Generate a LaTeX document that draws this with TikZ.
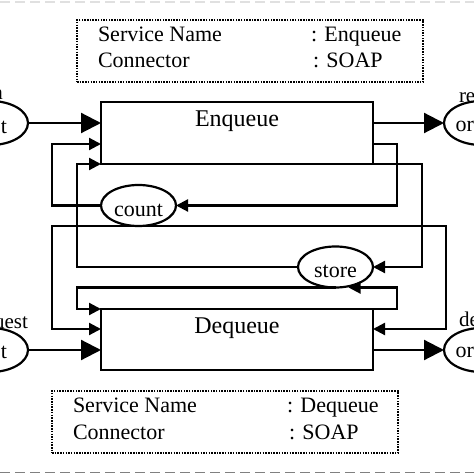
\documentclass[tikz,border=0pt]{standalone}
\usepackage{fontspec}
\setmainfont{Liberation Serif}
\usetikzlibrary{arrows.meta,shapes.geometric}
\begin{document}
\begin{tikzpicture}[x=1pt,y=1pt,inner sep=0pt,outer sep=0pt,line width=2.2pt,
font=\fontsize{22}{26}\selectfont,
svcblock/.style={draw,rectangle,minimum width=272pt,text height=0pt,text depth=12pt,font=\fontsize{24}{28}\selectfont},
place/.style={draw,ellipse,minimum width=75pt,minimum height=41pt,text height=22pt,text depth=0pt},
infobox/.style={draw,rectangle,dash pattern=on 1.5pt off 1.2pt,line width=1.8pt,minimum width=346pt,minimum height=62pt},
frag/.style={font=\fontsize{21}{24}\selectfont},
bigarr/.style={-{Triangle[length=20pt,width=20pt]}},
arr/.style={-{Triangle[length=12pt,width=12pt]}}]
\useasboundingbox (0,0) rectangle (474,474);
% page rules
\draw[black!12,line width=1.5pt,dash pattern=on 10pt off 5pt] (0,472) coordinate (tl) -- (474,472) coordinate (tr);
\draw[gray,line width=1.5pt,dash pattern=on 10pt off 5pt] (0,1.5) coordinate (bl) -- (474,1.5) coordinate (br);
% service descriptions
\node[infobox] (info1) at (250,423) {};
\node[anchor=base west] (name1) at (98,432) {Service Name};
\node[anchor=base west] (val1) at (311,432) {: Enqueue};
\node[anchor=base west] (conn1) at (98,406) {Connector};
\node[anchor=base west] (soap1) at (313,406) {: SOAP};
\node[infobox] (info2) at (225,52) {};
\node[anchor=base west] (name2) at (73,61.3) {Service Name};
\node[anchor=base west] (val2) at (287,61.3) {: Dequeue};
\node[anchor=base west] (conn2) at (73,34.7) {Connector};
\node[anchor=base west] (soap2) at (289,34.7) {: SOAP};
% services and places
\node[svcblock,minimum height=62pt] (enq) at (237,341) {Enqueue};
\node[svcblock,minimum height=61pt] (deq) at (237,134.5) {Dequeue};
\node[place] (count) at (138.5,268.5) {count};
\node[place] (store) at (335.5,207) {store};
\node[place,minimum height=44pt] (enqin) at (-9.5,351) {};
\node[place,minimum height=44pt] (enqout) at (481.5,351) {};
\node[place,minimum height=44pt] (deqin) at (-9.5,124) {};
\node[place,minimum height=44pt] (deqout) at (481.5,124) {};
\node[frag,anchor=base east] (enqinlbl) at (3,374) {n};
\node[anchor=base east] (enqintxt) at (7,340.7) {t};
\node[frag,anchor=base west] (enqoutlbl) at (459,371.7) {re};
\node[anchor=base west] (enqouttxt) at (455.7,342.3) {or};
\node[frag,anchor=base east] (deqinlbl) at (28,145.7) {quest};
\node[anchor=base east] (deqintxt) at (7,115.7) {t};
\node[frag,anchor=base west] (deqoutlbl) at (459,147.3) {de};
\node[anchor=base west] (deqouttxt) at (455.7,116.7) {or};
% ports
\draw[bigarr] (enqin.east) -- (enqin.east -| enq.west);
\draw[bigarr] (enq.east |- enqout.west) -- (enqout.west);
\draw[bigarr] (deqin.east) -- (deqin.east -| deq.west);
\draw[bigarr] (deq.east |- deqout.west) -- (deqout.west);
% count loop
\draw[arr] (count.west) -- ++(-49,0) |- ([yshift=-11pt]enq.west);
\draw[arr] ([yshift=-11pt]enq.east) -- ++(24,0) |- (count.east);
\draw[arr] (count.south) -| ([xshift=-49pt,yshift=10.5pt]deq.west) -- ([yshift=10.5pt]deq.west);
\draw[arr] (count.south) -| ([xshift=73pt,yshift=10.5pt]deq.east) -- ([yshift=10.5pt]deq.east);
% store loop
\draw[arr] (store.west) -| ([xshift=-24pt]enq.south west) -- (enq.south west);
\draw[arr] (enq.south east) -- ++(49,0) |- (store.east);
\draw[arr] (store.south) -| ([xshift=-24pt]deq.north west) -- (deq.north west);
\draw[arr] (deq.north east) -- ++(24,0) |- ([xshift=13pt]store.south);
\end{tikzpicture}
\end{document}
